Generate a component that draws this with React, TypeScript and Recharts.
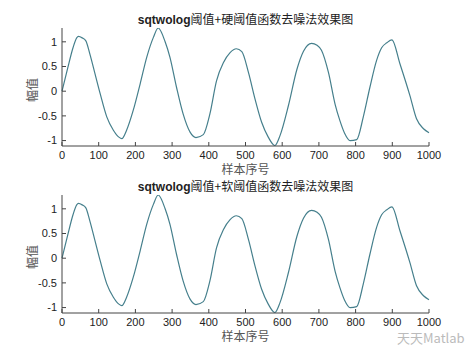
import React from 'react';
import { LineChart, Line, XAxis, YAxis } from 'recharts';

// sample index and amplitude (both panels show the same curve)
const sampleIdx = [
  0, 15, 30, 40, 45, 55, 65, 76, 90, 104, 122, 140, 155, 163, 176, 194, 213, 231, 249, 262,
  281, 294, 312, 330, 349, 365, 385, 403, 421, 440, 458, 475, 490, 508, 526, 544, 562, 580,
  594, 617, 640, 658, 680, 695, 707, 726, 744, 757, 770, 785, 803, 821, 839, 857, 871, 885,
  899, 921, 948, 966, 985, 1000,
];
const hardValues = [
  0.0, 0.45, 0.88, 1.08, 1.11, 1.08, 1.02, 0.75, 0.35, -0.05, -0.52, -0.79, -0.93, -0.96,
  -0.79, -0.39, 0.15, 0.69, 1.09, 1.28, 1.0, 0.69, 0.08, -0.46, -0.83, -0.94, -0.88, -0.46,
  0.21, 0.58, 0.78, 0.86, 0.8, 0.38, -0.16, -0.63, -0.93, -1.1, -0.9, -0.29, 0.44, 0.81,
  0.97, 0.93, 0.83, 0.38, -0.26, -0.59, -0.85, -1.0, -0.98, -0.52, 0.08, 0.62, 0.88, 0.98,
  1.04, 0.55, -0.09, -0.56, -0.76, -0.84,
];
const softValues = hardValues;

const xTicks = [0, 100, 200, 300, 400, 500, 600, 700, 800, 900, 1000];
const yTicks = [-1, -0.5, 0, 0.5, 1];

const titles = ['sqtwolog阈值+硬阈值函数去噪法效果图', 'sqtwolog阈值+软阈值函数去噪法效果图'];

const W = 474;
const H = 180;
const boxColor = '#444';
const lineColor = '#457f8c';
const tickStyle = { fill: '#222', fontSize: 11, fontFamily: 'Liberation Sans, Arial, sans-serif' };
const cjk = '"Noto Sans CJK SC", sans-serif';

const Panel = ({ values, title, top }: { values: number[]; title: string; top: number }) => {
  const data = sampleIdx.map((x, i) => ({ x, y: values[i] }));
  return (
    <div style={{ position: 'absolute', left: 0, top, width: W, height: H }}>
      <LineChart width={W} height={H} data={data} margin={{ top: 28, right: 45, left: 0, bottom: 0 }}>
        <XAxis
          dataKey="x"
          type="number"
          domain={[0, 1000]}
          ticks={xTicks}
          height={34}
          tickSize={-4}
          tickMargin={9}
          stroke={boxColor}
          tick={tickStyle}
          interval={0}
        />
        <XAxis
          xAxisId="top"
          orientation="top"
          dataKey="x"
          type="number"
          domain={[0, 1000]}
          ticks={xTicks}
          height={0}
          tickSize={-4}
          stroke={boxColor}
          tick={() => <g />}
          interval={0}
        />
        <YAxis
          type="number"
          domain={[-1.11, 1.28]}
          ticks={yTicks}
          width={62}
          tickSize={-4}
          tickMargin={9}
          stroke={boxColor}
          tick={tickStyle}
          interval={0}
          allowDataOverflow
        />
        <YAxis
          yAxisId="right"
          orientation="right"
          type="number"
          domain={[-1.11, 1.28]}
          ticks={yTicks}
          width={0}
          tickSize={-4}
          stroke={boxColor}
          tick={() => <g />}
          interval={0}
          allowDataOverflow
        />
        <Line
          type="monotone"
          dataKey="y"
          stroke={lineColor}
          strokeWidth={1.2}
          dot={false}
          isAnimationActive={false}
        />
      </LineChart>
      <div
        style={{
          position: 'absolute', left: 62, width: 367, top: 13, textAlign: 'center',
          fontSize: 12, color: '#222', fontFamily: cjk, lineHeight: '12px', whiteSpace: 'nowrap',
        }}
      >
        <span style={{ fontFamily: 'Liberation Sans, Arial, sans-serif', fontWeight: 'bold' }}>
          {title.slice(0, 8)}
        </span>
        {title.slice(8)}
      </div>
      <div
        style={{
          position: 'absolute', left: 62, width: 367, top: 163, textAlign: 'center',
          fontSize: 12, color: '#555', fontFamily: cjk, lineHeight: '12px',
        }}
      >
        样本序号
      </div>
      <div
        style={{
          position: 'absolute', left: 32, top: 90, transform: 'translate(-50%, -50%) rotate(-90deg)',
          fontSize: 12, color: '#555', fontFamily: cjk, lineHeight: '12px', whiteSpace: 'nowrap',
        }}
      >
        幅值
      </div>
    </div>
  );
};

export default function App() {
  return (
    <div style={{ position: 'absolute', left: 0, top: 0, width: W, height: 355, background: '#fff' }}>
      <Panel values={hardValues} title={titles[0]} top={0} />
      <Panel values={softValues} title={titles[1]} top={167} />
      <div
        style={{
          position: 'absolute', left: 397, top: 331, fontSize: 13, color: '#bbb',
          fontFamily: cjk, lineHeight: '14px', whiteSpace: 'nowrap',
        }}
      >
        天天Matlab
      </div>
    </div>
  );
}
